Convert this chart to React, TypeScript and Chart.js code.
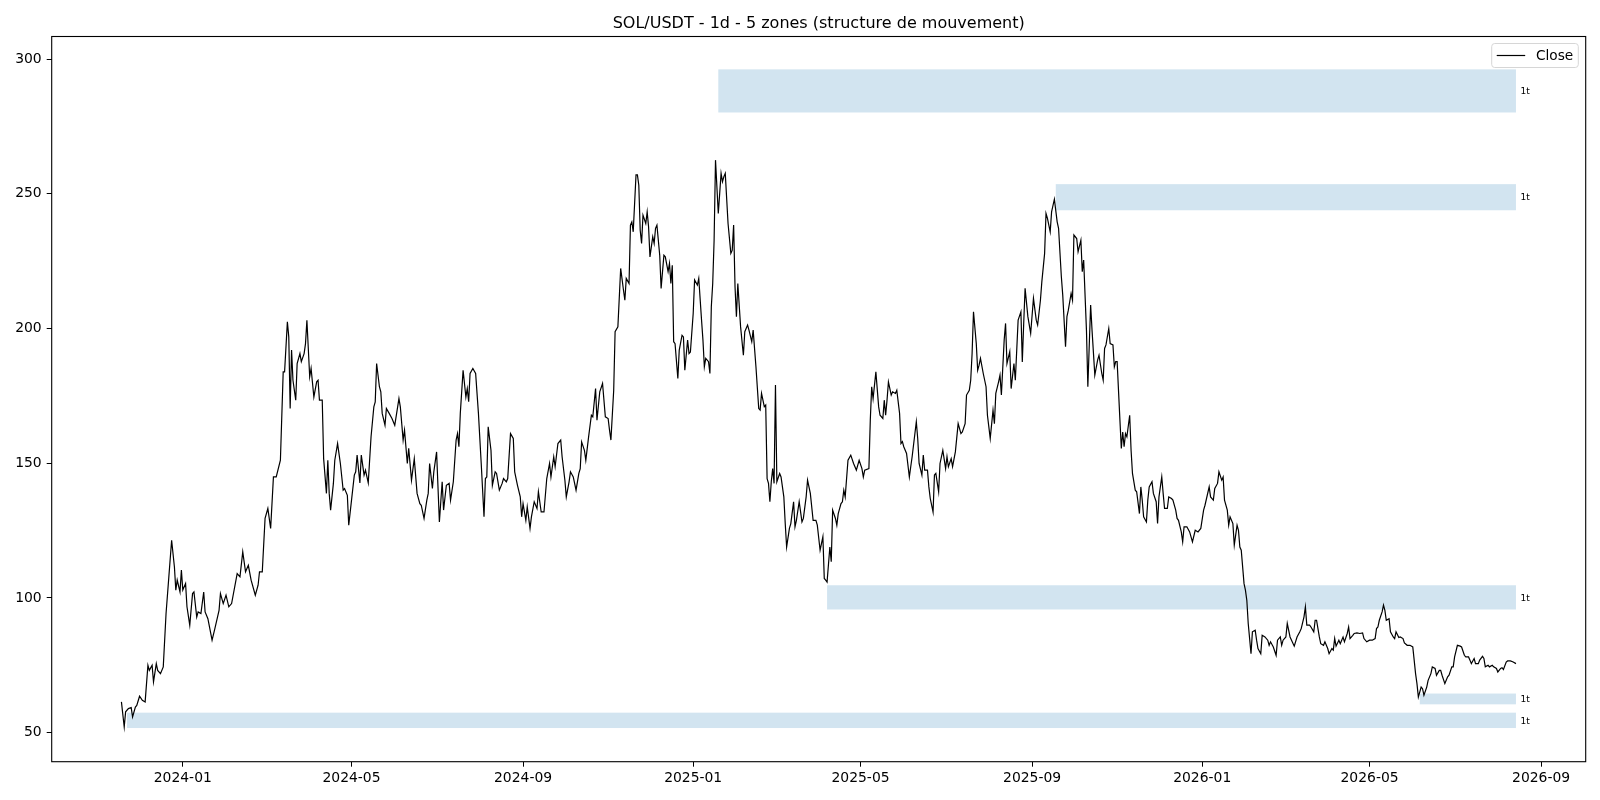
import { useEffect, useRef } from "react";
import { Chart, registerables } from "chart.js";

Chart.register(...registerables);

// ---- data ----
const BASE_DATE = "2024-01-01"; // day offsets below are counted from this date
const TITLE = "SOL/USDT - 1d - 5 zones (structure de mouvement)";
const SERIES_LABEL = "Close";

const closeDayOffsets = [
  -44, -42, -41, -39, -37, -36, -34, -33, -31, -29,
  -27, -25, -24, -22, -21, -19, -18, -16, -14, -12,
  -10, -8, -6, -5, -4, -2, -1, 0, 2, 3,
  5, 7, 8, 10, 11, 13, 15, 16, 18, 21,
  23, 26, 27, 29, 31, 33, 35, 39, 41, 43,
  45, 47, 49, 52, 54, 55, 57, 59, 61, 63,
  65, 67, 70, 72, 73, 75, 76, 77, 78, 79,
  81, 82, 84, 85, 87, 88, 89, 91, 92, 94,
  96, 97, 98, 100, 101, 103, 104, 105, 106, 108,
  109, 111, 113, 115, 116, 118, 119, 121, 123, 124,
  125, 127, 128, 130, 131, 133, 135, 137, 138, 139,
  141, 142, 143, 145, 146, 148, 150, 152, 155, 156,
  158, 159, 161, 162, 164, 166, 168, 170, 171, 173,
  175, 176, 177, 179, 180, 182, 184, 186, 187, 189,
  191, 192, 194, 196, 197, 198, 199, 201, 203, 204,
  205, 206, 208, 210, 212, 214, 216, 217, 218, 219,
  221, 222, 224, 225, 227, 229, 230, 232, 233, 235,
  237, 238, 240, 242, 243, 244, 246, 247, 249, 250,
  252, 254, 255, 257, 259, 261, 263, 264, 266, 267,
  269, 271, 272, 274, 275, 277, 278, 280, 282, 284,
  285, 286, 288, 289, 291, 293, 294, 296, 297, 299,
  301, 303, 305, 306, 307, 309, 310, 312, 314, 316,
  317, 318, 320, 321, 322, 323, 325, 326, 327, 328,
  329, 330, 332, 333, 334, 335, 337, 338, 339, 340,
  342, 343, 345, 346, 348, 349, 350, 351, 352, 353,
  355, 356, 358, 359, 360, 362, 363, 364, 366, 367,
  369, 370, 372, 373, 374, 375, 377, 378, 379, 380,
  381, 382, 384, 386, 387, 388, 389, 391, 393, 394,
  395, 396, 397, 398, 400, 402, 403, 405, 406, 408,
  409, 411, 413, 414, 415, 417, 418, 419, 420, 421,
  422, 423, 424, 425, 426, 428, 429, 431, 432, 433,
  435, 436, 438, 439, 440, 442, 444, 445, 447, 448,
  450, 452, 454, 455, 457, 459, 460, 461, 462, 464,
  465, 466, 468, 469, 470, 472, 473, 474, 475, 477,
  479, 481, 482, 483, 485, 487, 488, 489, 492, 493,
  494, 495, 497, 499, 500, 502, 503, 504, 505, 506,
  508, 509, 511, 512, 514, 515, 516, 517, 519, 521,
  522, 523, 526, 527, 528, 530, 531, 532, 534, 535,
  536, 538, 539, 540, 542, 543, 545, 547, 548, 549,
  551, 552, 554, 556, 558, 559, 561, 562, 564, 565,
  566, 567, 569, 570, 571, 572, 574, 576, 577, 579,
  581, 582, 583, 585, 586, 587, 589, 590, 591, 593,
  594, 596, 597, 599, 601, 602, 603, 604, 606, 608,
  610, 612, 613, 615, 616, 618, 619, 620, 622, 623,
  625, 627, 628, 630, 631, 633, 634, 635, 637, 638,
  639, 641, 642, 644, 645, 646, 648, 649, 651, 652,
  654, 656, 657, 659, 660, 661, 662, 664, 665, 667,
  668, 669, 670, 672, 673, 674, 675, 676, 677, 679,
  680, 681, 683, 684, 686, 687, 688, 689, 691, 692,
  693, 695, 696, 698, 699, 700, 702, 703, 704, 706,
  707, 709, 710, 712, 713, 714, 716, 717, 718, 720,
  722, 724, 726, 728, 730, 732, 733, 736, 737, 739,
  740, 742, 743, 745, 746, 747, 749, 750, 751, 753,
  754, 756, 757, 758, 759, 761, 762, 763, 764, 766,
  767, 769, 770, 771, 773, 774, 776, 778, 779, 780,
  782, 784, 785, 787, 788, 789, 791, 792, 794, 797,
  799, 801, 802, 804, 805, 806, 808, 809, 811, 812,
  813, 815, 816, 818, 819, 821, 822, 824, 825, 826,
  827, 829, 830, 832, 833, 835, 836, 837, 839, 840,
  842, 844, 846, 847, 849, 851, 853, 855, 856, 857,
  858, 860, 861, 862, 863, 865, 866, 868, 869, 870,
  872, 873, 875, 876, 878, 880, 882, 883, 884, 885,
  886, 888, 889, 890, 892, 893, 895, 896, 898, 899,
  901, 902, 903, 905, 907, 908, 910, 911, 912, 914,
  916, 917, 919, 920, 922, 923, 924, 926, 927, 929,
  930, 932, 933, 934, 936, 937, 939, 940, 942, 943,
  945, 946, 947, 949, 950, 952, 954, 956,
];

const closeValues = [
  61.4, 52.1, 57.7, 58.9, 59.3, 55.8, 59.5, 60.1, 63.5, 62.0,
  61.4, 75.0, 73.1, 75.0, 68.8, 75.6, 73.1, 71.9, 74.4, 94.2,
  107.8, 121.4, 111.5, 102.9, 106.6, 102.2, 110.3, 102.9, 105.3, 96.7,
  89.9, 101.6, 102.2, 92.9, 94.8, 94.2, 102.2, 94.8, 92.3, 84.3,
  88.6, 95.4, 101.6, 97.9, 101.0, 96.7, 97.9, 109.0, 107.8, 117.1,
  109.7, 112.1, 106.6, 101.0, 104.7, 109.7, 109.7, 129.5, 133.2, 125.8,
  144.9, 144.9, 151.1, 183.9, 183.9, 202.5, 196.9, 170.3, 192.0, 180.8,
  173.4, 187.0, 190.7, 187.7, 190.7, 194.4, 203.1, 182.1, 185.2, 174.6,
  180.2, 180.8, 173.4, 173.4, 151.7, 138.8, 151.1, 138.8, 132.6, 142.5,
  151.1, 157.3, 149.9, 140.0, 140.6, 138.1, 127.0, 136.3, 145.6, 146.8,
  153.0, 142.7, 153.0, 145.6, 147.4, 142.7, 159.8, 170.9, 172.8, 187.0,
  178.4, 176.5, 168.5, 164.1, 170.3, 168.5, 166.6, 164.1, 174.0, 170.9,
  158.6, 162.3, 149.9, 155.5, 143.7, 151.7, 138.8, 135.0, 134.4, 129.5,
  136.3, 138.8, 149.9, 140.6, 146.8, 154.2, 128.2, 143.1, 132.6, 141.8,
  142.5, 136.3, 143.1, 158.6, 161.0, 156.1, 168.5, 184.5, 174.6, 177.7,
  172.8, 183.3, 185.2, 183.3, 168.5, 149.9, 130.1, 144.3, 144.9, 163.5,
  154.8, 141.8, 146.8, 146.2, 140.0, 142.5, 144.3, 143.1, 144.3, 161.0,
  159.2, 146.8, 141.8, 137.5, 130.1, 135.0, 128.8, 133.8, 125.8, 130.1,
  135.7, 133.2, 139.4, 131.9, 131.9, 144.3, 149.9, 144.9, 152.4, 148.7,
  157.3, 158.6, 152.4, 143.7, 137.5, 143.1, 146.8, 144.9, 140.0, 146.2,
  148.0, 157.9, 154.8, 151.1, 159.8, 167.8, 167.2, 177.7, 166.0, 176.5,
  179.6, 167.2, 166.6, 162.3, 158.6, 177.1, 198.8, 200.6, 222.3, 214.3,
  210.5, 218.6, 216.7, 238.4, 239.6, 235.9, 257.0, 257.0, 253.2, 236.5,
  231.6, 242.1, 239.0, 243.3, 237.8, 226.6, 234.1, 231.6, 237.2, 238.4,
  227.2, 214.9, 227.2, 226.6, 221.1, 224.2, 216.7, 223.5, 195.1, 194.4,
  181.5, 192.0, 197.5, 196.9, 184.5, 195.7, 190.7, 191.3, 205.6, 218.0,
  216.1, 218.6, 203.1, 195.7, 185.8, 188.9, 187.7, 183.3, 208.1, 216.7,
  232.8, 262.5, 242.7, 257.6, 254.5, 256.4, 257.6, 239.0, 227.9, 229.1,
  238.4, 215.5, 204.4, 216.7, 200.6, 190.1, 198.8, 201.3, 199.4, 195.1,
  199.4, 185.8, 170.3, 169.7, 175.9, 171.0, 171.6, 144.3, 142.5, 135.7,
  143.1, 148.0, 142.5, 179.0, 143.1, 146.2, 144.9, 137.5, 127.6, 118.9,
  125.8, 127.6, 135.7, 126.4, 128.8, 135.7, 128.2, 129.5, 137.5, 143.7,
  138.8, 128.8, 128.8, 127.0, 117.7, 122.7, 107.2, 106.6, 105.9, 118.9,
  113.4, 132.6, 129.5, 127.0, 131.3, 135.0, 135.7, 140.0, 137.5, 151.1,
  153.0, 149.9, 148.7, 147.4, 151.1, 148.0, 144.9, 147.4, 148.0, 166.0,
  178.4, 174.0, 183.9, 170.9, 167.8, 166.6, 173.4, 167.8, 173.4, 180.2,
  175.3, 176.5, 175.9, 177.1, 168.5, 157.3, 158.0, 156.1, 153.6, 144.9,
  148.7, 152.4, 165.4, 159.2, 149.9, 145.6, 153.0, 147.4, 147.4, 141.2,
  136.9, 131.9, 145.6, 146.2, 139.4, 149.9, 154.8, 148.0, 152.4, 148.7,
  151.7, 148.7, 154.2, 164.7, 161.0, 161.6, 164.7, 175.3, 177.1, 180.8,
  190.7, 206.2, 194.4, 184.5, 186.4, 188.9, 183.3, 178.4, 167.8, 159.2,
  169.7, 164.7, 175.9, 180.2, 182.7, 175.3, 195.7, 201.9, 187.0, 191.4,
  177.7, 187.0, 180.8, 203.1, 206.2, 187.6, 201.9, 214.9, 204.4, 198.2,
  211.2, 203.1, 201.3, 210.5, 217.3, 227.9, 242.7, 241.0, 235.9, 243.3,
  248.0, 239.6, 237.2, 219.2, 212.4, 193.2, 204.4, 206.8, 213.0, 210.5,
  234.7, 233.4, 228.5, 232.8, 221.1, 225.4, 199.4, 178.4, 208.7, 199.4,
  182.7, 188.3, 190.1, 183.3, 180.8, 192.6, 193.9, 200.0, 194.4, 193.9,
  185.8, 187.7, 187.7, 166.0, 155.5, 161.6, 156.1, 161.0, 159.8, 167.8,
  154.8, 146.2, 140.0, 139.4, 131.3, 141.2, 136.3, 130.1, 128.2, 136.3,
  141.2, 143.1, 138.8, 135.7, 127.6, 137.5, 144.9, 138.8, 133.2, 133.2,
  137.5, 136.9, 136.3, 132.6, 129.5, 128.8, 124.5, 120.8, 126.4, 126.4,
  124.5, 120.8, 125.1, 124.5, 125.8, 132.6, 134.4, 141.2, 137.5, 136.3,
  140.6, 142.5, 146.8, 143.7, 144.9, 136.3, 132.6, 127.0, 130.1, 127.6,
  119.6, 127.0, 125.1, 118.9, 117.7, 105.3, 102.9, 99.1, 90.5, 79.3,
  87.4, 88.0, 84.3, 81.2, 79.3, 86.1, 85.5, 84.3, 82.4, 83.7,
  81.8, 78.7, 84.3, 85.5, 82.4, 84.3, 85.5, 90.5, 85.5, 82.1,
  85.5, 87.4, 88.6, 93.0, 96.7, 89.9, 89.9, 89.2, 87.4, 91.7,
  91.7, 85.5, 83.0, 82.4, 83.7, 81.2, 79.3, 81.2, 80.6, 84.9,
  82.1, 84.3, 83.0, 85.5, 83.7, 86.8, 89.2, 84.9, 86.1, 86.8,
  87.0, 86.8, 87.0, 84.9, 83.7, 84.3, 84.3, 84.9, 88.6, 89.2,
  91.7, 94.8, 97.3, 95.4, 91.7, 92.3, 87.4, 85.5, 84.9, 87.4,
  85.3, 85.5, 84.9, 83.3, 82.4, 82.4, 81.8, 76.9, 71.9, 68.2,
  63.2, 66.9, 66.3, 63.9, 66.9, 69.4, 71.9, 74.4, 73.8, 71.3,
  73.1, 73.1, 71.3, 68.2, 70.7, 71.3, 74.4, 74.4, 78.1, 82.4,
  82.1, 81.8, 78.7, 78.1, 78.1, 76.9, 75.6, 77.5, 75.6, 75.6,
  76.9, 78.3, 77.5, 74.4, 75.0, 74.4, 75.0, 74.4, 73.8, 72.5,
  73.8, 74.1, 73.4, 76.2, 76.6, 76.6, 76.2, 75.6,
];

// zones (day offsets from BASE_DATE, price bounds)
const zoneStartOffsets = [384, 626, 462, 887, -40];
const zoneEndOffset = 956;
const zoneLows = [280.2, 243.9, 95.7, 60.5, 51.7];
const zoneHighs = [296.2, 253.6, 104.7, 64.5, 57.4];
const zoneLabels = ["1t", "1t", "1t", "1t", "1t"];

const xTickMonths = [
  "2024-01", "2024-05", "2024-09", "2025-01", "2025-05",
  "2025-09", "2026-01", "2026-05", "2026-09",
];
const yTickValues = [50, 100, 150, 200, 250, 300];

// ---- helpers ----
const DAY_MS = 86400000;
const baseMs = Date.parse(BASE_DATE + "T00:00:00Z");
function monthToOffset(m: string): number {
  const [yy, mm] = m.split("-").map(Number);
  return (Date.UTC(yy, mm - 1, 1) - baseMs) / DAY_MS;
}
const xTickOffsets = xTickMonths.map(monthToOffset);

const FONT = "'DejaVu Sans', 'Liberation Sans', sans-serif";
const ZONE_FILL = "rgba(31,119,180,0.2)";

const overlayPlugin = {
  id: "overlay",
  beforeDatasetsDraw(chart: any) {
    const { ctx } = chart;
    const xs = chart.scales.x;
    const ys = chart.scales.y;
    ctx.save();
    ctx.fillStyle = ZONE_FILL;
    zoneStartOffsets.forEach((s, i) => {
      const x0 = xs.getPixelForValue(s);
      const x1 = xs.getPixelForValue(zoneEndOffset);
      const y0 = ys.getPixelForValue(zoneHighs[i]);
      const y1 = ys.getPixelForValue(zoneLows[i]);
      ctx.fillRect(x0, y0, x1 - x0, y1 - y0);
    });
    ctx.restore();
  },
  afterDraw(chart: any) {
    const { ctx, chartArea } = chart;
    const xs = chart.scales.x;
    const ys = chart.scales.y;
    ctx.save();
    // zone labels
    ctx.fillStyle = "#000";
    ctx.font = `9px ${FONT}`;
    ctx.textAlign = "left";
    ctx.textBaseline = "alphabetic";
    zoneLabels.forEach((lab, i) => {
      const xEnd = xs.getPixelForValue(zoneEndOffset);
      const yc = ys.getPixelForValue((zoneLows[i] + zoneHighs[i]) / 2);
      ctx.fillText(lab, xEnd + 4.5, yc + 3.3);
    });
    // frame
    ctx.strokeStyle = "#000";
    ctx.lineWidth = 1.1;
    ctx.strokeRect(chartArea.left, chartArea.top, chartArea.right - chartArea.left, chartArea.bottom - chartArea.top);
    // title
    ctx.font = `16px ${FONT}`;
    ctx.textAlign = "center";
    ctx.fillText(TITLE, (chartArea.left + chartArea.right) / 2, 28.3);
    // legend
    const lx = chartArea.right - 94;
    const ly = chartArea.top + 7;
    const lw = 86.6;
    const lh = 24;
    ctx.beginPath();
    const r = 3;
    ctx.moveTo(lx + r, ly);
    ctx.lineTo(lx + lw - r, ly);
    ctx.quadraticCurveTo(lx + lw, ly, lx + lw, ly + r);
    ctx.lineTo(lx + lw, ly + lh - r);
    ctx.quadraticCurveTo(lx + lw, ly + lh, lx + lw - r, ly + lh);
    ctx.lineTo(lx + r, ly + lh);
    ctx.quadraticCurveTo(lx, ly + lh, lx, ly + lh - r);
    ctx.lineTo(lx, ly + r);
    ctx.quadraticCurveTo(lx, ly, lx + r, ly);
    ctx.closePath();
    ctx.fillStyle = "rgba(255,255,255,0.8)";
    ctx.fill();
    ctx.strokeStyle = "#d6d6d6";
    ctx.lineWidth = 1;
    ctx.stroke();
    ctx.beginPath();
    ctx.moveTo(lx + 5, ly + 12);
    ctx.lineTo(lx + 33.5, ly + 12);
    ctx.strokeStyle = "#000";
    ctx.lineWidth = 1.2;
    ctx.stroke();
    ctx.fillStyle = "#000";
    ctx.font = `13.7px ${FONT}`;
    ctx.textAlign = "left";
    ctx.fillText(SERIES_LABEL, lx + 44.3, ly + 16.5);
    ctx.restore();
  },
};

export default function App() {
  const canvasRef = useRef<HTMLCanvasElement | null>(null);

  useEffect(() => {
    document.body.style.margin = "0";
    document.body.style.overflow = "hidden";
    const canvas = canvasRef.current;
    if (!canvas) return;
    const points = closeDayOffsets.map((d, i) => ({ x: d, y: closeValues[i] }));
    const chart = new Chart(canvas, {
      type: "line",
      data: {
        datasets: [
          {
            label: SERIES_LABEL,
            data: points,
            borderColor: "#000",
            borderWidth: 1.2,
            pointRadius: 0,
            tension: 0,
            fill: false,
          },
        ],
      },
      options: {
        animation: false,
        responsive: false,
        devicePixelRatio: 1,
        parsing: true,
        layout: { padding: { top: 36.5, right: 14.3, left: 0, bottom: 0 } },
        plugins: {
          legend: { display: false },
          title: { display: false },
          tooltip: { enabled: false },
        },
        scales: {
          x: {
            type: "linear",
            min: -94,
            max: 1006,
            afterBuildTicks: (s: any) => {
              s.ticks = xTickOffsets.map((v) => ({ value: v }));
            },
            afterFit: (s: any) => {
              s.height = 38.3;
            },
            ticks: {
              autoSkip: false,
              maxRotation: 0,
              padding: 3,
              color: "#000",
              font: { family: FONT, size: 13.9 },
              callback: (v: any) => {
                const idx = xTickOffsets.indexOf(Number(v));
                return idx >= 0 ? xTickMonths[idx] : "";
              },
            },
            grid: {
              display: true,
              drawOnChartArea: false,
              drawTicks: true,
              tickLength: 5,
              tickColor: "#000",
              tickWidth: 1,
            },
            border: { display: false },
          },
          y: {
            type: "linear",
            min: 39.2,
            max: 308.4,
            afterBuildTicks: (s: any) => {
              s.ticks = yTickValues.map((v) => ({ value: v }));
            },
            afterFit: (s: any) => {
              s.width = 51.7;
            },
            ticks: {
              padding: 5,
              color: "#000",
              font: { family: FONT, size: 13.9 },
              callback: (v: any) => String(v),
            },
            grid: {
              display: true,
              drawOnChartArea: false,
              drawTicks: true,
              tickLength: 5,
              tickColor: "#000",
              tickWidth: 1,
            },
            border: { display: false },
          },
        },
      },
      plugins: [overlayPlugin],
    });
    return () => chart.destroy();
  }, []);

  return (
    <div style={{ width: 1600, height: 800, background: "#fff" }}>
      <canvas ref={canvasRef} width={1600} height={800} style={{ width: 1600, height: 800, display: "block" }} />
    </div>
  );
}
